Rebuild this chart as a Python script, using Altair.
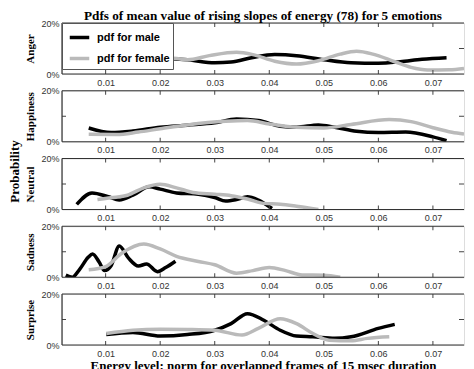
import altair as alt
import pandas as pd

emotions = ["Anger", "Happiness", "Neutral", "Sadness", "Surprise"]
series_names = ["pdf for male", "pdf for female"]
x_ticks = [0.01, 0.02, 0.03, 0.04, 0.05, 0.06, 0.07]
y_ticks = [0, 10, 20]
y_mid_tick = [10]

# Anger
anger_male_x = [0.002, 0.005, 0.008, 0.011, 0.015, 0.02, 0.025, 0.03, 0.033, 0.037, 0.041, 0.045, 0.05, 0.055, 0.06, 0.064, 0.068, 0.0725]
anger_male_y = [3.9, 3.4, 3.1, 3.7, 5.0, 6.1, 5.6, 4.4, 4.7, 6.5, 7.6, 7.2, 5.6, 4.4, 4.2, 4.8, 5.8, 6.4]
anger_female_x = [0.0113, 0.014, 0.018, 0.021, 0.025, 0.029, 0.034, 0.037, 0.041, 0.045, 0.049, 0.053, 0.056, 0.059, 0.063, 0.066, 0.069, 0.073, 0.0757]
anger_female_y = [4.0, 5.2, 6.5, 6.5, 5.6, 7.2, 8.5, 7.6, 5.0, 3.9, 5.2, 7.8, 8.9, 7.8, 4.8, 2.6, 1.6, 1.7, 2.2]

# Happiness
happy_male_x = [0.0069, 0.011, 0.015, 0.02, 0.025, 0.03, 0.034, 0.038, 0.042, 0.045, 0.049, 0.052, 0.056, 0.06, 0.065, 0.07, 0.0725]
happy_male_y = [5.4, 3.6, 4.2, 5.7, 6.5, 7.4, 8.9, 8.3, 6.1, 5.7, 6.6, 5.7, 4.1, 3.6, 3.8, 1.9, 0.4]
happy_female_x = [0.0069, 0.012, 0.016, 0.02, 0.025, 0.032, 0.036, 0.04, 0.045, 0.05, 0.055, 0.062, 0.066, 0.07, 0.0735, 0.0757]
happy_female_y = [2.9, 2.8, 3.8, 5.1, 6.6, 8.0, 8.3, 7.0, 5.7, 5.4, 6.8, 8.7, 7.9, 5.5, 3.7, 3.0]

# Neutral
neutral_male_x = [0.0047, 0.0075, 0.0105, 0.0125, 0.015, 0.018, 0.02, 0.023, 0.027, 0.03, 0.032, 0.034, 0.036, 0.038, 0.0405]
neutral_male_y = [2.0, 6.5, 5.0, 3.7, 5.6, 8.9, 8.0, 6.5, 6.0, 4.7, 3.3, 3.9, 5.0, 3.7, 0.4]
neutral_female_x = [0.0085, 0.011, 0.014, 0.017, 0.02, 0.023, 0.026, 0.03, 0.033, 0.036, 0.039, 0.042, 0.045, 0.049]
neutral_female_y = [3.9, 4.6, 5.6, 8.5, 9.9, 8.5, 6.7, 6.0, 5.4, 4.1, 2.4, 2.1, 1.3, 0.0]

# Sadness
sad_male_x = [0.0027, 0.0039, 0.0052, 0.0068, 0.0076, 0.0088, 0.0098, 0.011, 0.0125, 0.0142, 0.016, 0.0175, 0.0195, 0.021, 0.0228]
sad_male_y = [0.8, 0.0, 3.0, 7.8, 9.1, 6.0, 2.6, 4.5, 12.3, 7.5, 4.4, 5.2, 2.2, 3.8, 6.3]
sad_female_x = [0.0069, 0.01, 0.013, 0.017, 0.02, 0.023, 0.027, 0.03, 0.034, 0.037, 0.04, 0.043, 0.046, 0.05, 0.053]
sad_female_y = [2.9, 4.2, 9.5, 13.0, 11.1, 8.2, 6.2, 4.9, 1.6, 2.6, 3.8, 2.6, 0.9, 0.8, 0.0]

# Surprise
surp_male_x = [0.0101, 0.015, 0.02, 0.025, 0.03, 0.033, 0.036, 0.039, 0.042, 0.045, 0.048, 0.052, 0.055, 0.06, 0.063]
surp_male_y = [4.1, 4.9, 3.5, 4.1, 5.8, 8.4, 12.3, 9.7, 5.8, 3.5, 3.2, 2.6, 3.2, 6.5, 8.1]
surp_female_x = [0.0101, 0.015, 0.02, 0.025, 0.03, 0.035, 0.038, 0.042, 0.045, 0.048, 0.051, 0.055, 0.058, 0.062]
surp_female_y = [4.5, 5.8, 6.2, 6.1, 5.8, 3.9, 6.5, 10.3, 8.4, 4.5, 1.9, 1.7, 2.6, 3.2]

panels = [
    (anger_male_x, anger_male_y, anger_female_x, anger_female_y),
    (happy_male_x, happy_male_y, happy_female_x, happy_female_y),
    (neutral_male_x, neutral_male_y, neutral_female_x, neutral_female_y),
    (sad_male_x, sad_male_y, sad_female_x, sad_female_y),
    (surp_male_x, surp_male_y, surp_female_x, surp_female_y),
]

W, H = 402, 51
X_DOMAIN = [0.002, 0.0757]
LINE_W = 3.5
TICK_COLOR = "#444"
FRAME_COLOR = "#333"

xticks_df = pd.DataFrame({"x": x_ticks})
yticks_df = pd.DataFrame({"y": y_mid_tick})
hframe_df = pd.DataFrame({"y": [0, 20]})
vframe_df = pd.DataFrame({"x": [X_DOMAIN[0]]})

color_scale = alt.Scale(domain=series_names, range=["#000000", "#bababa"])


def make_panel(i):
    mx, my, fx, fy = panels[i]
    df_m = pd.DataFrame({"x": mx, "y": my, "series": series_names[0]})
    df_f = pd.DataFrame({"x": fx, "y": fy, "series": series_names[1]})
    last = i == len(panels) - 1
    x_axis = alt.Axis(
        values=x_ticks, format=".2f", ticks=False, domain=False, grid=False,
        labelFont="Liberation Sans", labelFontSize=9, labelColor="#333",
        labelPadding=4,
        title="Energy level: norm for overlapped frames of 15 msec duration" if last else None,
        titleFont="Liberation Serif", titleFontSize=13, titleFontWeight="bold",
        titleColor="#000", titlePadding=1,
    )
    y_axis = alt.Axis(
        values=y_ticks, labelExpr="datum.value + '%'", ticks=False, domain=False,
        grid=False, labelFont="Liberation Sans", labelFontSize=9, labelColor="#333",
        labelPadding=3, title=emotions[i], titleFont="Liberation Serif",
        titleFontSize=11, titleFontWeight="bold", titleColor="#000", titlePadding=5,
    )
    xs = alt.Scale(domain=X_DOMAIN, nice=False, zero=False)
    ys = alt.Scale(domain=[0, 20], nice=False)
    if i == 0:
        legend = alt.Legend(
            orient="none", legendX=0, legendY=0, title=None, symbolType="stroke",
            symbolStrokeWidth=LINE_W, symbolSize=380, labelFont="Liberation Sans",
            labelFontWeight="bold", labelFontSize=11, labelColor="#000",
            strokeColor="#555", fillColor="#ffffff", padding=3, symbolOffset=3,
            rowPadding=2, labelOffset=6,
        )
    else:
        legend = None

    def line(df):
        return alt.Chart(df).mark_line(
            strokeWidth=LINE_W, interpolate="monotone", clip=True, strokeCap="butt"
        ).encode(
            x=alt.X("x:Q", scale=xs, axis=x_axis),
            y=alt.Y("y:Q", scale=ys, axis=y_axis),
            color=alt.Color("series:N", scale=color_scale, legend=legend),
        )

    rule = dict(color=TICK_COLOR, strokeWidth=1)
    top_ticks = alt.Chart(xticks_df).mark_rule(**rule).encode(
        x=alt.X("x:Q", scale=xs), y=alt.value(0), y2=alt.value(4))
    bot_ticks = alt.Chart(xticks_df).mark_rule(**rule).encode(
        x=alt.X("x:Q", scale=xs), y=alt.value(H - 4), y2=alt.value(H))
    left_ticks = alt.Chart(yticks_df).mark_rule(**rule).encode(
        y=alt.Y("y:Q", scale=ys), x=alt.value(0), x2=alt.value(4))
    right_ticks = alt.Chart(yticks_df).mark_rule(**rule).encode(
        y=alt.Y("y:Q", scale=ys), x=alt.value(W - 5), x2=alt.value(W))
    hframe = alt.Chart(hframe_df).mark_rule(color=FRAME_COLOR, strokeWidth=1.2).encode(
        y=alt.Y("y:Q", scale=ys), x=alt.value(0), x2=alt.value(W))
    vframe = alt.Chart(vframe_df).mark_rule(color=FRAME_COLOR, strokeWidth=1.2).encode(
        x=alt.X("x:Q", scale=xs), y=alt.value(0), y2=alt.value(H))

    layers = [line(df_m), line(df_f), top_ticks, bot_ticks, left_ticks, right_ticks,
              hframe, vframe]
    if i == 2:
        prob = alt.Chart(pd.DataFrame({"t": ["Probability"]})).mark_text(
            angle=270, font="Liberation Serif", fontSize=13, fontWeight="bold",
            color="#000", baseline="middle", align="center",
        ).encode(text="t:N", x=alt.value(-47), y=alt.value(13))
        layers.append(prob)
    ch = alt.layer(*layers).properties(width=W, height=H)
    if i == 0:
        ch = ch.properties(title=alt.TitleParams(
            "Pdfs of mean value of rising slopes of energy (78) for 5 emotions",
            font="Liberation Serif", fontSize=13.2, fontWeight="bold", color="#000",
            anchor="middle", frame="group", offset=-4,
        ))
    return ch


chart = alt.vconcat(*[make_panel(i) for i in range(5)], spacing=16.75, bounds="flush").properties(
    padding={"left": 0, "top": 0, "right": 0, "bottom": 0}
).configure_view(stroke=None).configure(background="white")

chart.save("out.html", embed_options={"renderer": "svg", "actions": False})
